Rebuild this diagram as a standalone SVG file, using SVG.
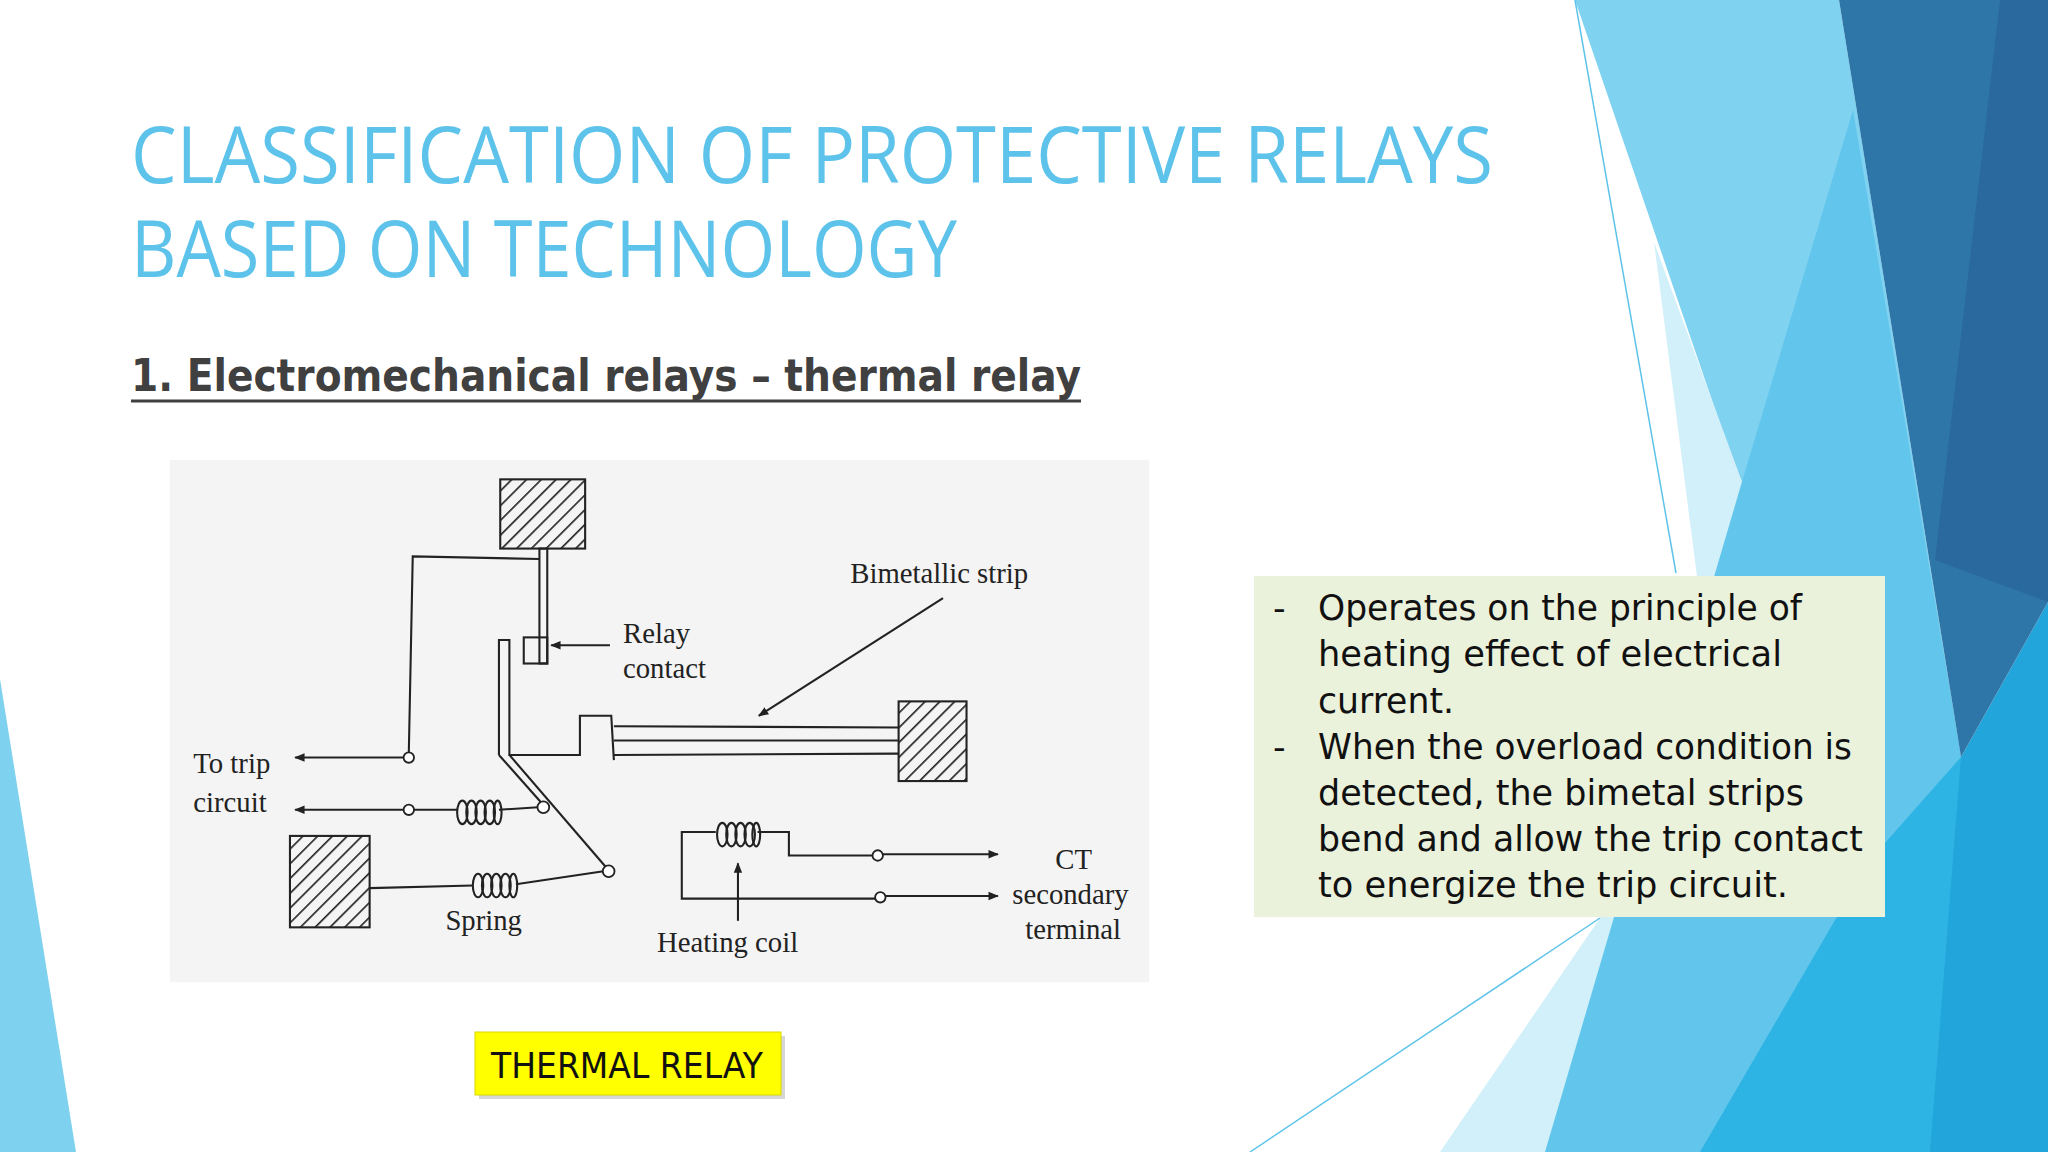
<svg xmlns="http://www.w3.org/2000/svg" width="2048" height="1152" viewBox="0 0 2048 1152">
<defs>
<style>
.title{font-family:"Open Sans","DejaVu Sans",sans-serif;font-size:78px;fill:#5ec3ea}
.body{font-family:"DejaVu Sans","Open Sans",sans-serif;font-size:35px;fill:#111}
.lbl{font-family:"Liberation Serif",serif;font-size:22px;fill:#222}
.ln{stroke:#222;stroke-width:1.6;fill:none}
.hat{fill:url(#hatch);stroke:#222;stroke-width:1.6}
.term{fill:#fff;stroke:#222;stroke-width:1.4}
</style>
<pattern id="hatch" width="8" height="8" patternUnits="userSpaceOnUse" patternTransform="rotate(45)">
<rect width="8" height="8" fill="#f4f4f4"/><line x1="0" y1="0" x2="0" y2="8" stroke="#222" stroke-width="2.5"/>
</pattern>
<marker id="ah" viewBox="0 0 10 10" refX="9" refY="5" markerWidth="8" markerHeight="8" orient="auto-start-reverse" markerUnits="userSpaceOnUse">
<path d="M0,1 L10,5 L0,9 z" fill="#222"/>
</marker>
</defs>
<rect width="2048" height="1152" fill="#fff"/>
<g id="background">
<polygon points="0,679 76,1152 0,1152" fill="#7fd1f0"/>
<polygon points="1575,0 1839,0 1961,757 1800,1152 1600,1152 1741,485" fill="#80d2f1"/>
<polygon points="1654,242 1745,490 1560,1152 1440,1152 1600,918 1700,600" fill="#d2f0fa"/>
<polygon points="1853,110 1961,757 1773,1152 1545,1152 1741,485" fill="#62c6ec"/>
<polygon points="1961,757 2048,602 2048,1152 1773,1152" fill="#22a5da"/>
<polygon points="1870,860 1961,757 1930,1152 1700,1152" fill="#2eb3e5"/>
<polygon points="1839,0 2048,0 2048,602 1961,757" fill="#2f76a8"/>
<polygon points="2000,0 2048,0 2048,602 1935,560" fill="#29699e"/>
<line x1="1575" y1="0" x2="1676" y2="573" stroke="#5ec3ea" stroke-width="1.5"/>
<line x1="1250" y1="1152" x2="1600" y2="918" stroke="#5ec3ea" stroke-width="1.5"/>
</g>
<g id="title">
<text class="title" x="131" y="183" textLength="1362" lengthAdjust="spacingAndGlyphs">CLASSIFICATION OF PROTECTIVE RELAYS</text>
<text class="title" x="131" y="277" textLength="826" lengthAdjust="spacingAndGlyphs">BASED ON TECHNOLOGY</text>
</g>
<g id="subtitle">
<text x="131" y="391" font-family="DejaVu Sans,sans-serif" font-weight="bold" font-size="44" fill="#404040" textLength="950" lengthAdjust="spacingAndGlyphs">1. Electromechanical relays – thermal relay</text>
<line x1="131" y1="401" x2="1081" y2="401" stroke="#404040" stroke-width="3"/>
</g>
<g id="diagram" transform="scale(1.30612)">
<rect x="130" y="352" width="750" height="400" fill="#f4f4f4"/>
<rect class="hat" x="383" y="367" width="65" height="53"/>
<rect class="hat" x="688" y="537" width="52" height="61"/>
<rect class="hat" x="222" y="640" width="61" height="70"/>
<rect class="ln" x="413" y="420" width="6" height="88"/>
<rect class="ln" x="401" y="488" width="18" height="20"/>
<g id="connectors">
<path class="ln" d="M413,428 L316,426 L313,576"/>
<line class="ln" x1="309" y1="580" x2="226" y2="580" marker-end="url(#ah)"/>
<line class="ln" x1="467" y1="494" x2="422" y2="494" marker-end="url(#ah)"/>
<line class="ln" x1="722" y1="458" x2="581" y2="548" marker-end="url(#ah)"/>
<path class="ln" d="M382,578 L382,490 L390,490 L390,578 L444,578 L444,548 L468,548 L470,582"/>
<line class="ln" x1="382" y1="578" x2="414" y2="614"/>
<line class="ln" x1="390" y1="578" x2="464" y2="664"/>
<line class="ln" x1="470" y1="556" x2="688" y2="557"/>
<line class="ln" x1="470" y1="567" x2="688" y2="567"/>
<line class="ln" x1="470" y1="578" x2="688" y2="577"/>
<line class="ln" x1="309" y1="620" x2="226" y2="620" marker-end="url(#ah)"/>
<path class="ln" d="M317,620 L350,620 M382,620 L412,618"/>
<path class="ln" d="M283,680 L362,678 M395,677 L462,667"/>
<path class="ln" d="M548,637 L522,637 L522,688 L670,688"/>
<path class="ln" d="M580,637 L604,637 L604,655 L668,655"/>
<line class="ln" x1="676" y1="654" x2="764" y2="654" marker-end="url(#ah)"/>
<line class="ln" x1="678" y1="686" x2="764" y2="686" marker-end="url(#ah)"/>
<line class="ln" x1="565" y1="705" x2="565" y2="661" marker-end="url(#ah)"/>
</g>
<g class="ln">
<ellipse cx="354" cy="622" rx="4" ry="9"/><ellipse cx="361" cy="622" rx="4" ry="9"/><ellipse cx="368" cy="622" rx="4" ry="9"/><ellipse cx="375" cy="622" rx="4" ry="9"/><ellipse cx="381" cy="622" rx="3" ry="9"/>
<ellipse cx="366" cy="678" rx="4" ry="9"/><ellipse cx="373" cy="678" rx="4" ry="9"/><ellipse cx="380" cy="678" rx="4" ry="9"/><ellipse cx="387" cy="678" rx="4" ry="9"/><ellipse cx="393" cy="678" rx="3" ry="9"/>
<ellipse cx="553" cy="639" rx="4" ry="9"/><ellipse cx="560" cy="639" rx="4" ry="9"/><ellipse cx="567" cy="639" rx="4" ry="9"/><ellipse cx="574" cy="639" rx="4" ry="9"/><ellipse cx="579" cy="639" rx="3" ry="9"/>
</g>
<circle class="term" cx="313" cy="580" r="4"/>
<circle class="term" cx="313" cy="620" r="4"/>
<circle class="term" cx="416" cy="618" r="4.5"/>
<circle class="term" cx="466" cy="667" r="4.5"/>
<circle class="term" cx="672" cy="655" r="4"/>
<circle class="term" cx="674" cy="687" r="4"/>
<text class="lbl" x="651" y="446">Bimetallic strip</text>
<text class="lbl" x="477" y="492">Relay</text>
<text class="lbl" x="477" y="519">contact</text>
<text class="lbl" x="148" y="592" font-size="24">To trip</text>
<text class="lbl" x="148" y="622" font-size="24">circuit</text>
<text class="lbl" x="341" y="712" font-size="24">Spring</text>
<text class="lbl" x="503" y="729" font-size="23">Heating coil</text>
<text class="lbl" x="808" y="665" font-size="23">CT</text>
<text class="lbl" x="775" y="692" font-size="22">secondary</text>
<text class="lbl" x="785" y="719" font-size="22">terminal</text>
</g>
<g id="notes">
<rect x="1254" y="576" width="631" height="341" fill="#ebf2dc"/>
<text class="body" x="1273" y="620">-</text>
<text class="body" x="1318" y="620" textLength="484" lengthAdjust="spacingAndGlyphs">Operates on the principle of</text>
<text class="body" x="1318" y="666" textLength="464" lengthAdjust="spacingAndGlyphs">heating effect of electrical</text>
<text class="body" x="1318" y="713" textLength="136" lengthAdjust="spacingAndGlyphs">current.</text>
<text class="body" x="1273" y="759">-</text>
<text class="body" x="1318" y="759" textLength="534" lengthAdjust="spacingAndGlyphs">When the overload condition is</text>
<text class="body" x="1318" y="805" textLength="486" lengthAdjust="spacingAndGlyphs">detected, the bimetal strips</text>
<text class="body" x="1318" y="851" textLength="545" lengthAdjust="spacingAndGlyphs">bend and allow the trip contact</text>
<text class="body" x="1318" y="897" textLength="470" lengthAdjust="spacingAndGlyphs">to energize the trip circuit.</text>
</g>
<g id="caption">
<rect x="479" y="1036" width="306" height="63" fill="#bbb" opacity="0.6"/>
<rect x="475" y="1032" width="306" height="63" fill="#ffff00" stroke="#d8d800" stroke-width="1"/>
<text x="491" y="1078" font-family="DejaVu Sans,sans-serif" font-size="36" fill="#111" textLength="272" lengthAdjust="spacingAndGlyphs">THERMAL RELAY</text>
</g>
</svg>
